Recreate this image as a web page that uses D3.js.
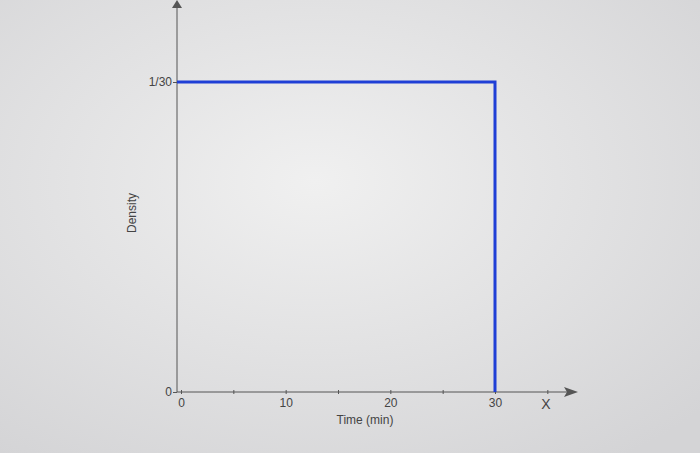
<!DOCTYPE html>
<html><head><meta charset="utf-8">
<script src="https://cdn.jsdelivr.net/npm/d3@7"></script>
<style>body{margin:0;overflow:hidden}</style></head>
<body><script>
// data
const xTicks = [0, 5, 10, 15, 20, 25, 30, 35];
const xTickLabels = ["0", "", "10", "", "20", "", "30", ""];
const yTicks = [0, 1 / 30];
const yTickLabels = ["0", "1/30"];
const densityX = [0, 30, 30];
const densityY = [1 / 30, 1 / 30, 0];

const width = 700, height = 453;
const svg = d3.select("body").append("svg").attr("width", width).attr("height", height);

const defs = svg.append("defs");
const grad = defs.append("radialGradient").attr("id", "bg").attr("cx", "45%").attr("cy", "40%").attr("r", "75%");
grad.append("stop").attr("offset", "0%").attr("stop-color", "#f0f0f0");
grad.append("stop").attr("offset", "100%").attr("stop-color", "#d4d4d6");
svg.append("rect").attr("width", width).attr("height", height).attr("fill", "url(#bg)");

const x = d3.scaleLinear().domain([0, 30]).range([181, 495]);
const y = d3.scaleLinear().domain([0, 1 / 30]).range([392, 82]);
const axisColor = "#555";

// y axis line with arrow to the top
svg.append("line").attr("x1", 177).attr("x2", 177).attr("y1", 2).attr("y2", 392).attr("stroke", axisColor);
svg.append("path").attr("d", "M177,0 L172,8 L182,8 Z").attr("fill", axisColor);
// x axis line with arrow
svg.append("line").attr("x1", 177).attr("x2", 572).attr("y1", 392).attr("y2", 392).attr("stroke", axisColor);
svg.append("path").attr("d", "M578,392 L564,387 L567,392 L564,397 Z").attr("fill", axisColor);

const xAxis = d3.axisBottom(x).tickValues(xTicks).tickSize(4)
    .tickFormat((d, i) => xTickLabels[i]);
const gx = svg.append("g").attr("transform", "translate(0,390)").call(xAxis);
gx.select(".domain").remove();
gx.selectAll("line").attr("stroke", axisColor);
gx.selectAll("text").attr("fill", "#444").style("font", "12px 'Liberation Sans', Arial").attr("y", 8);

const yAxis = d3.axisLeft(y).tickValues(yTicks).tickSize(4)
    .tickFormat((d, i) => yTickLabels[i]);
const gy = svg.append("g").attr("transform", "translate(177,0)").call(yAxis);
gy.select(".domain").remove();
gy.selectAll("line").attr("stroke", axisColor);
gy.selectAll("text").attr("fill", "#444").style("font", "12px 'Liberation Sans', Arial").attr("x", -5);

svg.append("text").attr("x", 546).attr("y", 409).attr("text-anchor", "middle")
    .attr("fill", "#444").style("font", "14px 'Liberation Sans', Arial").text("X");
svg.append("text").attr("x", 365).attr("y", 424).attr("text-anchor", "middle")
    .attr("fill", "#444").style("font", "12px 'Liberation Sans', Arial").text("Time (min)");
svg.append("text").attr("transform", "translate(136,213) rotate(-90)").attr("text-anchor", "middle")
    .attr("fill", "#444").style("font", "12px 'Liberation Sans', Arial").text("Density");

const line = d3.line().x(d => x(d[0])).y(d => y(d[1]));
svg.append("path").datum(densityX.map((v, i) => [v, densityY[i]]))
    .attr("d", line).attr("fill", "none").attr("stroke", "#1f3fd6").attr("stroke-width", 3);
svg.append("line").attr("x1", 177).attr("x2", x(0)).attr("y1", y(1 / 30)).attr("y2", y(1 / 30))
    .attr("stroke", "#1f3fd6").attr("stroke-width", 3);
</script></body></html>
